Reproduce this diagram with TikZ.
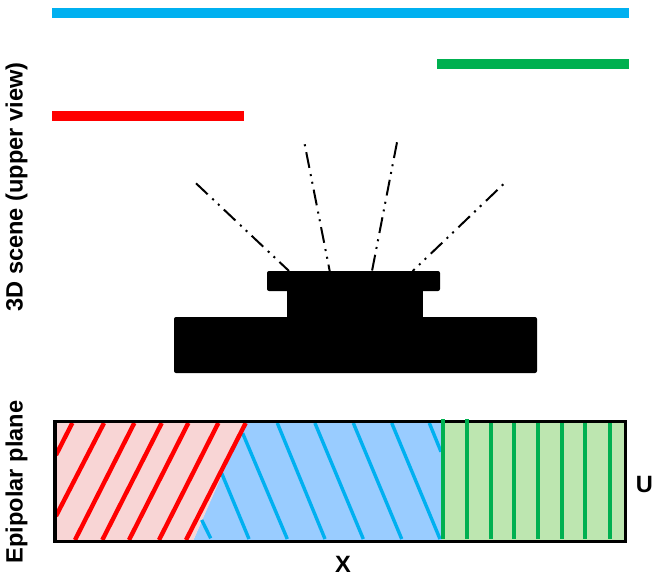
\documentclass[tikz,border=0pt]{standalone}
\usepackage{fontspec}
\setmainfont{Liberation Sans}
\usepackage{xcolor}
\definecolor{scenered}{HTML}{FF0000}
\definecolor{sceneblue}{HTML}{00B0F0}
\definecolor{scenegreen}{HTML}{00B050}
\definecolor{fillred}{HTML}{F8D5D5}
\definecolor{fillblue}{HTML}{99CCFF}
\definecolor{fillgreen}{HTML}{BDE6B0}
\tikzset{
  bar/.style={line width=5pt},
  ray/.style={line width=1pt, dash pattern=on 8pt off 3.2pt on 1pt off 2.9pt on 1pt off 3pt},
  rayshift/.style={ray, dash phase=15.1pt},
  body/.style={fill=black, rounded corners=1pt},
  axislabel/.style={font=\bfseries\fontsize{11.8}{14}\selectfont, inner sep=0pt}
}
\begin{document}
\begin{tikzpicture}[x=0.5pt, y=-0.5pt]
    \useasboundingbox (0,0) rectangle (657,577);

    % scene
    \draw[bar, sceneblue] (52,13) -- (629,13);
    \draw[bar, scenegreen] (437,64) -- (629,64);
    \draw[bar, scenered] (52,116) -- (244,116);

    \draw[ray] (196,183.3) -- (289,271);
    \draw[rayshift] (304.7,144.3) -- (329.7,271);
    \draw[ray] (397,142.3) -- (372,271);
    \draw[rayshift] (503.3,184.3) -- (412.7,271);

    \fill[body] (174,317) rectangle (537,373);
    \fill[black] (287,290) rectangle (423,318);
    \fill[body] (267,271) rectangle (440,291);

    % epipolar plane
    \fill[fillblue] (245,421) -- (442,421) -- (442,541) -- (193,541) -- cycle;
    \fill[fillred] (55,421) -- (245.7,421) -- (193,541) -- (55,541) -- cycle;
    \fill[fillgreen] (442,421) rectangle (625,541);

    \foreach \xa/\ya/\xb/\yb in {277.3/423/325/539, 314.9/423/363.3/539, 353.3/423/401.7/539, 391.7/423/440/539, 429.3/423/441/451.7, 242.7/433.3/287.3/539, 221.7/473.3/249/539, 201.7/520/210.7/538.3}
    \draw[line width=1.7pt, sceneblue] (\xa,\ya) -- (\xb,\yb);

    \foreach \xa/\ya/\xb/\yb in {72.3/423/56/455, 104/423/56/516, 134.3/423/75/540, 161.7/423/102.3/540, 188.3/423/129/540, 218.3/423/159/540, 245.7/423/186/540}
    \draw[line width=2.2pt, scenered] (\xa,\ya) -- (\xb,\yb);

    \foreach \x in {490.7,514,538.3,561.7,585.3,609.7}
        \draw[line width=2pt, scenegreen] (\x,423) -- (\x,539);

    \draw[line width=1.7pt] (55,421.5) rectangle (625.5,541.5);

    \foreach \x in {443,467}
        \draw[line width=2pt, scenegreen] (\x,419.3) -- (\x,539);

    \node[axislabel, rotate=90] (sceneLabel) at (16.5,187) {3D scene (upper view)};
    \node[axislabel, rotate=90] (planeLabel) at (16.5,482) {Epipolar plane};
    \node[axislabel] (xLabel) at (343,564) {X};
    \node[axislabel] (uLabel) at (644.5,484) {U};
\end{tikzpicture}
\end{document}
